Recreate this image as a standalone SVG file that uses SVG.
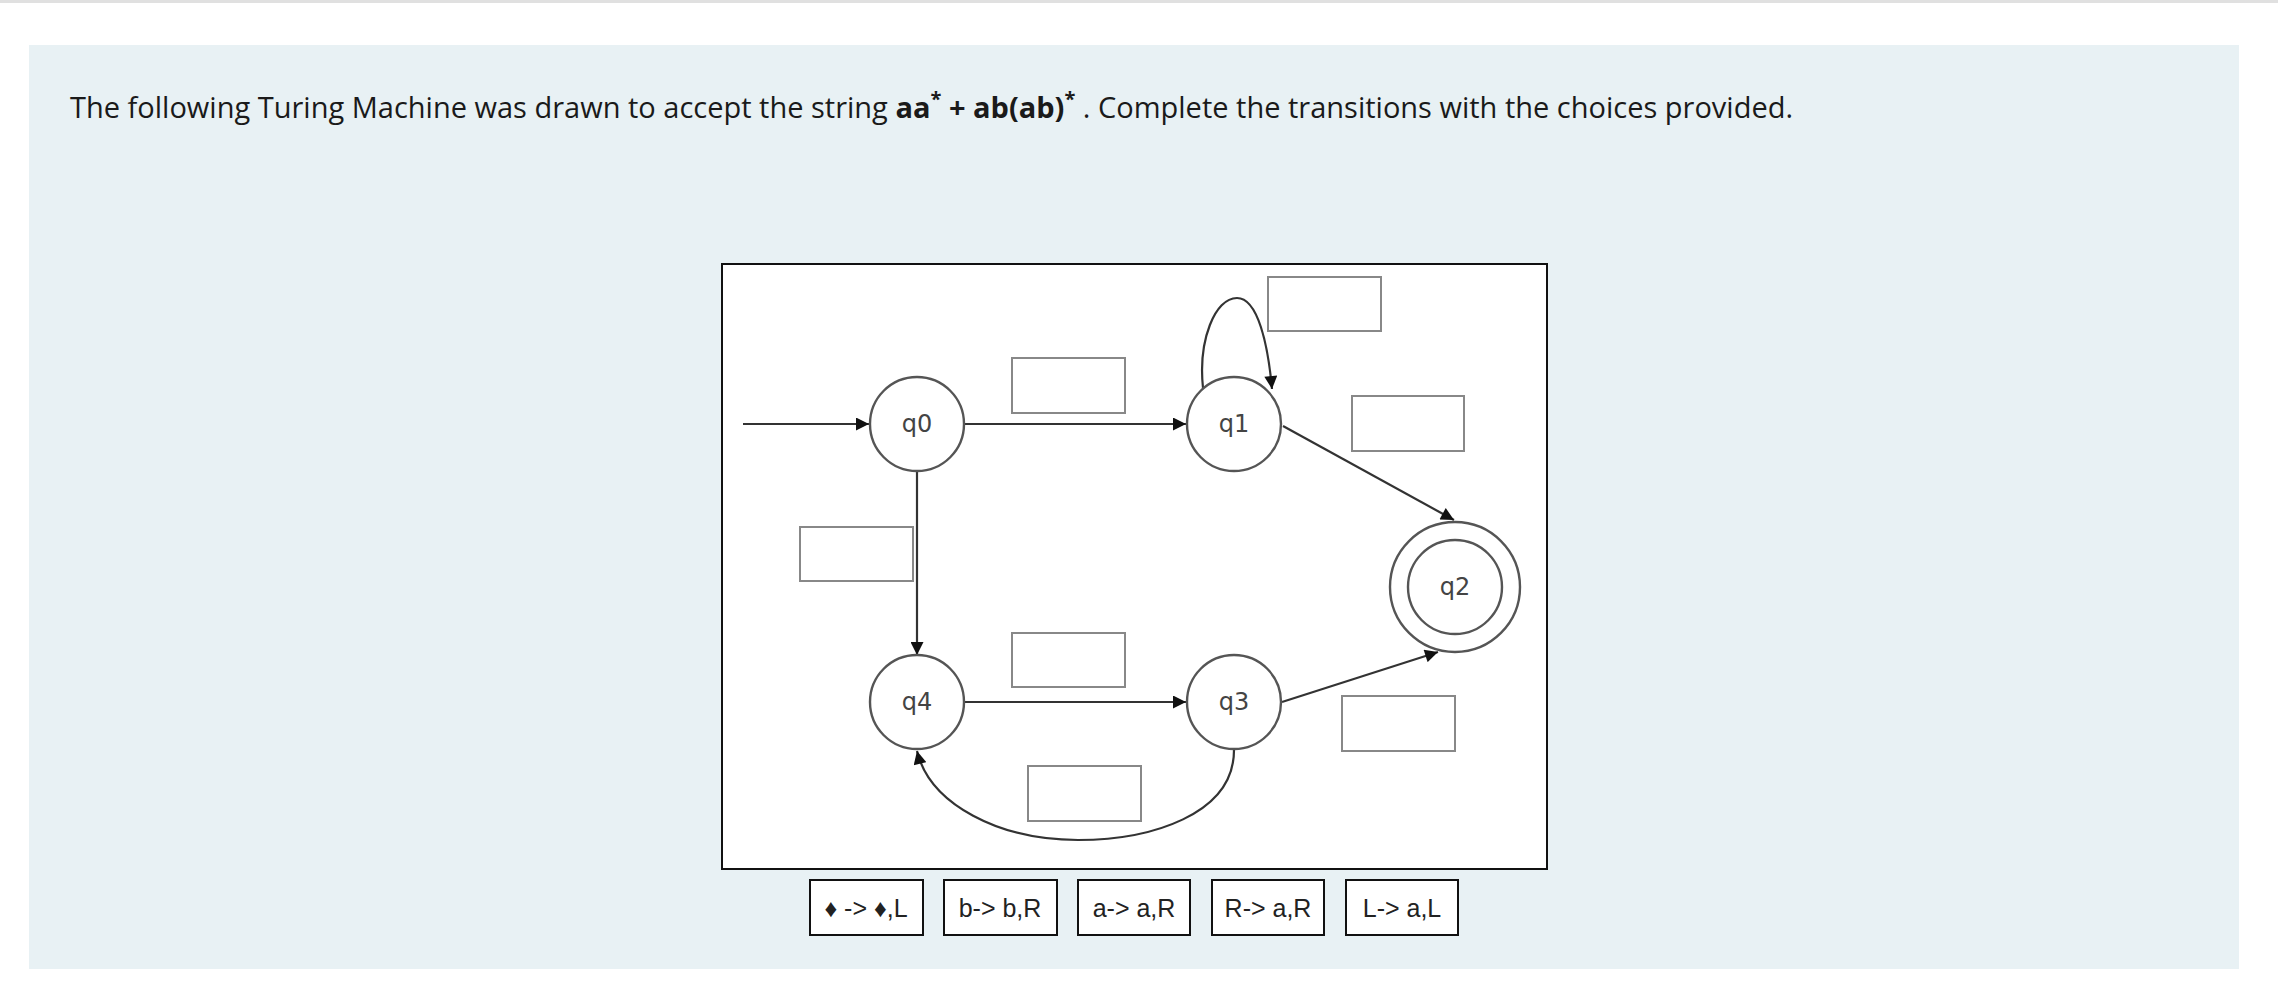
<svg xmlns="http://www.w3.org/2000/svg" width="2278" height="1000" viewBox="0 0 2278 1000">
<defs>
<marker id="ah" viewBox="0 0 10 10" refX="10" refY="5" markerWidth="15" markerHeight="13" orient="auto" markerUnits="userSpaceOnUse"><path d="M0,0 L10,5 L0,10 z" fill="#111"/></marker>
<style>
.st{fill:#fff;stroke:#555;stroke-width:2.4}
.nl{font-family:"DejaVu Sans",sans-serif;font-size:24px;fill:#444;text-anchor:middle;dominant-baseline:central}
.lb{fill:#fff;stroke:#888;stroke-width:2}
.ch{fill:#fff;stroke:#111;stroke-width:2}
.ct{font-family:"Liberation Sans",Arial,sans-serif;font-size:25px;fill:#222;text-anchor:middle;dominant-baseline:central}
.e{fill:none;stroke:#333;stroke-width:2.2;marker-end:url(#ah)}
</style>
</defs>
<rect width="2278" height="1000" fill="#fff"/>
<rect x="0" y="0" width="2278" height="3" fill="#e0e0e0"/>
<rect x="29" y="45" width="2210" height="924" fill="#e8f1f4"/>
<text x="70" y="118" font-family="'Open Sans','Noto Sans',sans-serif" font-size="29" fill="#1a1a1a">The following Turing Machine was drawn to accept the string <tspan font-weight="bold">aa<tspan dy="-12" font-size="20">*</tspan><tspan dy="12"> + ab(ab)</tspan><tspan dy="-12" font-size="20">*</tspan></tspan><tspan dy="12"> . Complete the transitions with the choices provided.</tspan></text>
<rect x="722" y="264" width="825" height="605" fill="#fff" stroke="#111" stroke-width="2"/>
<g id="connectors">
<line class="e" x1="743" y1="424" x2="869" y2="424"/>
<line class="e" x1="965" y1="424" x2="1186" y2="424"/>
<path class="e" d="M1203,388 C1198,340 1215,298 1237,298 C1258,298 1268,345 1272,389"/>
<line class="e" x1="1283" y1="426" x2="1454" y2="520"/>
<line class="e" x1="917" y1="471" x2="917" y2="655"/>
<line class="e" x1="965" y1="702" x2="1186" y2="702"/>
<line class="e" x1="1282" y1="702" x2="1438" y2="652"/>
<path class="e" d="M1234,750 C1234,815 1150,840 1078,840 C1000,840 930,805 917,751"/>
</g>
<g id="q0"><circle class="st" cx="917" cy="424" r="47"/><text class="nl" x="917" y="424">q0</text></g>
<g id="q1"><circle class="st" cx="1234" cy="424" r="47"/><text class="nl" x="1234" y="424">q1</text></g>
<g id="q2"><circle class="st" cx="1455" cy="587" r="65"/><circle class="st" cx="1455" cy="587" r="47"/><text class="nl" x="1455" y="587">q2</text></g>
<g id="q3"><circle class="st" cx="1234" cy="702" r="47"/><text class="nl" x="1234" y="702">q3</text></g>
<g id="q4"><circle class="st" cx="917" cy="702" r="47"/><text class="nl" x="917" y="702">q4</text></g>
<g id="labels">
<rect class="lb" x="1012" y="358" width="113" height="55"/>
<rect class="lb" x="1268" y="277" width="113" height="54"/>
<rect class="lb" x="1352" y="396" width="112" height="55"/>
<rect class="lb" x="800" y="527" width="113" height="54"/>
<rect class="lb" x="1012" y="633" width="113" height="54"/>
<rect class="lb" x="1342" y="696" width="113" height="55"/>
<rect class="lb" x="1028" y="766" width="113" height="55"/>
</g>
<g id="choices">
<rect class="ch" x="810" y="880" width="113" height="55"/><text class="ct" x="866" y="908">♦ -&gt; ♦,L</text>
<rect class="ch" x="944" y="880" width="113" height="55"/><text class="ct" x="1000" y="908">b-&gt; b,R</text>
<rect class="ch" x="1078" y="880" width="112" height="55"/><text class="ct" x="1134" y="908">a-&gt; a,R</text>
<rect class="ch" x="1212" y="880" width="112" height="55"/><text class="ct" x="1268" y="908">R-&gt; a,R</text>
<rect class="ch" x="1346" y="880" width="112" height="55"/><text class="ct" x="1402" y="908">L-&gt; a,L</text>
</g>
</svg>
